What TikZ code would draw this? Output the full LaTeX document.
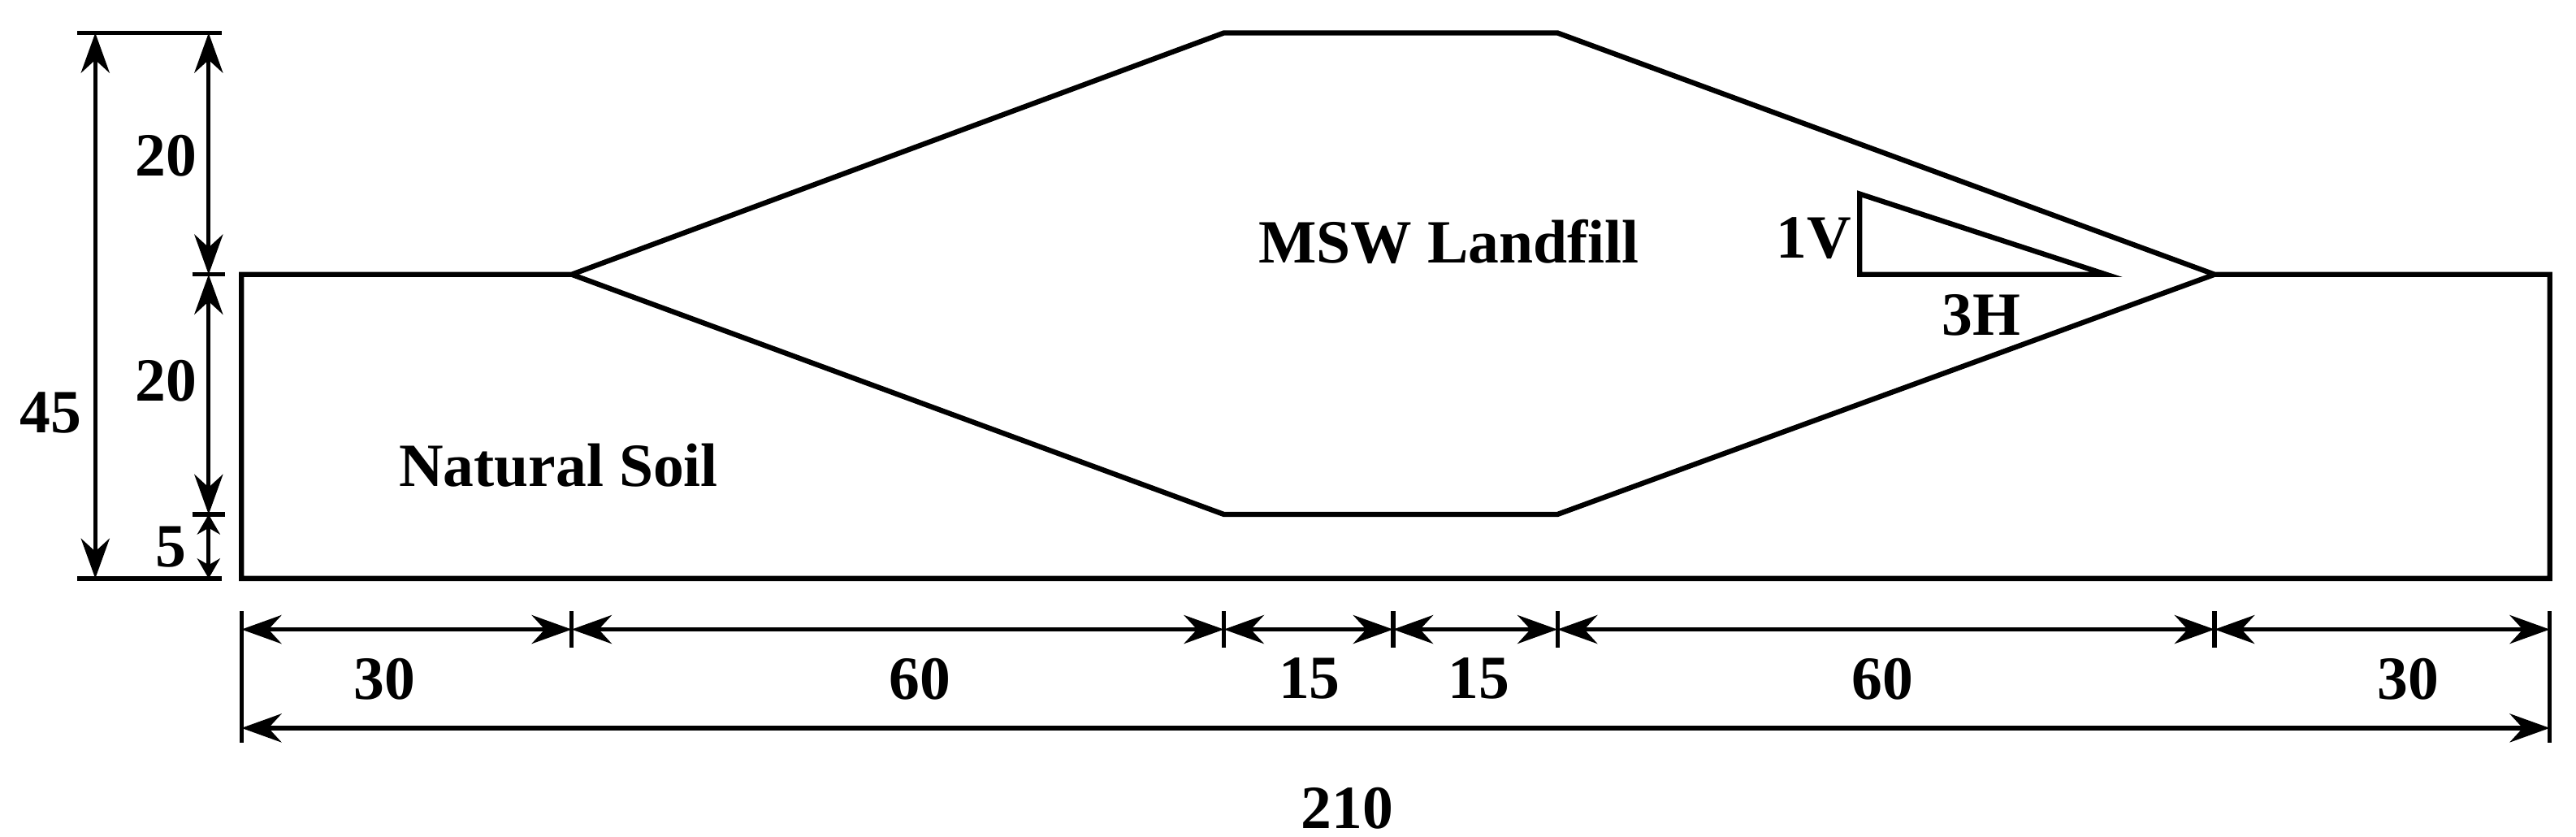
\documentclass[tikz,border=0pt]{standalone}
\usepackage{fontspec}
\setmainfont{Liberation Serif}
\usetikzlibrary{arrows.meta}
\begin{document}
\begin{tikzpicture}[x=0.02022cm,y=-0.02022cm,
  outline/.style={line width=1.8pt},
  dim/.style={line width=1.5pt,{Stealth[length=14pt,width=10pt]}-{Stealth[length=14pt,width=10pt]}},
  tick/.style={line width=1.5pt},
  lab/.style={font=\bfseries\fontsize{21.5}{24}\selectfont,inner sep=0pt}]
\useasboundingbox (0,0) rectangle (1568,509.3);
% geometry
\coordinate (BL) at (147,352); \coordinate (BR) at (1552,352);
\coordinate (TL) at (147,167); \coordinate (TR) at (1552,167);
\coordinate (L) at (348,167); \coordinate (R) at (1348,167);
\coordinate (T1) at (745,20); \coordinate (T2) at (948,20);
\coordinate (B1) at (745,313); \coordinate (B2) at (948,313);
\draw[outline] (TL) -- (L) -- (T1) -- (T2) -- (R) -- (TR) -- (BR) -- (BL) -- cycle;
\draw[outline] (L) -- (B1) -- (B2) -- (R);
% slope triangle
\coordinate (s1) at (1132,118); \coordinate (s2) at (1132,167); \coordinate (s3) at (1282,167);
\draw[outline] (s1) -- (s2) -- (s3) -- cycle;
\node[lab] at (1104,145) {1V};
\node[lab] at (1206,192) {3H};
\node[lab] at (882,147) {MSW Landfill};
\node[lab] at (340,283) {Natural Soil};
% vertical dims
\foreach \y in {20,352} \draw[tick] (47,\y) -- (135,\y);
\foreach \y in {167,313} \draw[tick] (117,\y) -- (137,\y);
\coordinate (v0) at (58,20); \coordinate (v1) at (58,352);
\draw[dim] (v0) -- (v1);
\coordinate (a0) at (127,20); \coordinate (a1) at (127,167);
\coordinate (a2) at (127,313); \coordinate (a3) at (127,352);
\draw[dim] (a0) -- (a1); \draw[dim] (a1) -- (a2);
\draw[line width=1.5pt,{Stealth[length=7pt,width=8pt]}-{Stealth[length=7pt,width=8pt]}] (a2) -- (a3);
\node[lab] at (31,251) {45};
\node[lab] at (101,95) {20};
\node[lab] at (101,232) {20};
\node[lab] at (104,333) {5};
% horizontal dims
\foreach \x [count=\i] in {147,348,745,848,948,1348,1552} {
  \coordinate (h\i) at (\x,383);
  \draw[tick] (\x,372) -- (\x,394);}
\draw[tick] (147,394) -- (147,452); \draw[tick] (1552,394) -- (1552,452);
\foreach \a/\b in {1/2,2/3,3/4,4/5,5/6,6/7} \draw[dim] (h\a) -- (h\b);
\coordinate (g1) at (147,443); \coordinate (g2) at (1552,443);
\draw[dim] (g1) -- (g2);
\node[lab] at (234,413) {30};
\node[lab] at (560,413) {60};
\node[lab] at (797,413) {15};
\node[lab] at (900,413) {15};
\node[lab] at (1146,413) {60};
\node[lab] at (1466,413) {30};
\node[lab] at (820,492) {210};
\end{tikzpicture}
\end{document}
